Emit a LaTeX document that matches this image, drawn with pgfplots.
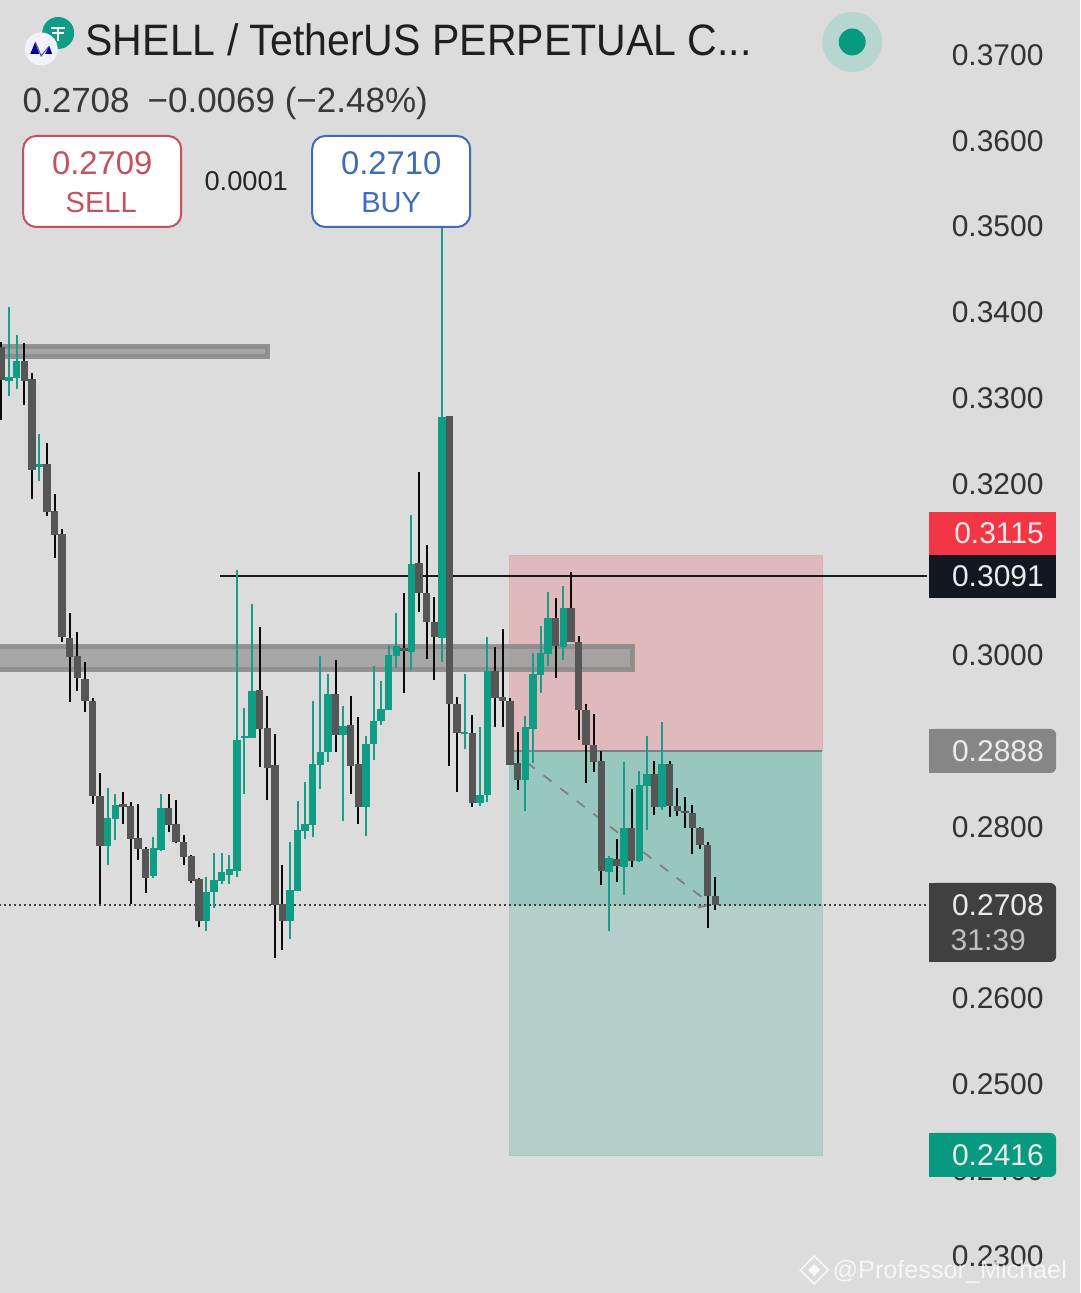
\documentclass[border=0pt]{standalone}
\usepackage{fontspec}
\setmainfont{Liberation Sans}
\usepackage{pgfplots}
\usepackage{pgfplotstable}
\pgfplotsset{compat=1.18}
\definecolor{bg}{HTML}{DCDCDC}
\definecolor{upc}{HTML}{0F9D85}
\definecolor{upw}{HTML}{1A9C88}
\definecolor{dnc}{HTML}{565656}
\definecolor{dnw}{HTML}{0A0A0A}
\definecolor{pinkz}{HTML}{E0B9BD}
\definecolor{tealz}{HTML}{97C7BF}
\definecolor{tealy}{HTML}{B4CFCA}
\definecolor{sellc}{RGB}{197,80,95}
\definecolor{buyc}{RGB}{63,108,184}
\definecolor{halo}{RGB}{184,214,208}
\definecolor{tv}{RGB}{8,153,129}
\definecolor{redb}{RGB}{242,54,69}
\definecolor{navyb}{RGB}{19,23,34}
\definecolor{grayb}{RGB}{134,134,134}
\pgfplotstableread{
i hi top bot lo
0 .3364 .3358 .3320 .3273
3 .3363 .3342 .3319 .3291
4 .3328 .3321 .3215 .3181
6 .3247 .3222 .3166 .3161
7 .3187 .3167 .3139 .3112
8 .3146 .3140 .3020 .3015
9 .3048 .3019 .2997 .2945
10 .3026 .2998 .2973 .2957
11 .2991 .2971 .2946 .2933
12 .2949 .2946 .2835 .2826
13 .2862 .2835 .2777 .2709
16 .2840 .2826 .2822 .2802
17 .2828 .2823 .2785 .2709
18 .2826 .2786 .2773 .2760
19 .2776 .2773 .2739 .2722
22 .2837 .2821 .2801 .2793
23 .2830 .2802 .2781 .2780
24 .2790 .2781 .2764 .2755
25 .2766 .2765 .2736 .2734
26 .2739 .2738 .2689 .2682
34 .3032 .2959 .2913 .2869
35 .2952 .2914 .2868 .2830
36 .2907 .2871 .2708 .2646
37 .2755 .2709 .2689 .2656
44 .2994 .2954 .2906 .2886
46 .2952 .2918 .2870 .2837
47 .2927 .2872 .2822 .2802
53 .3072 .3008 .3004 .2955
55 .3213 .3107 .3072 .3049
56 .3128 .3072 .3038 .2995
57 .3067 .3038 .3020 .2970
59 .3278 .3278 .2942 .2870
60 .2950 .2942 .2908 .2840
62 .2929 .2908 .2827 .2822
65 .3009 .2981 .2949 .2915
66 .3030 .2950 .2946 .2915
67 .2949 .2946 .2871 .2871
68 .2910 .2873 .2854 .2842
73 .3066 .3043 .3010 .2973
75 .3096 .3054 .3015 .3014
76 .3022 .3015 .2935 .2900
77 .2942 .2935 .2894 .2850
78 .2931 .2894 .2875 .2863
79 .2887 .2876 .2748 .2731
81 .2785 .2762 .2753 .2735
83 .2843 .2798 .2759 .2752
86 .2876 .2861 .2822 .2813
88 .2876 .2872 .2823 .2811
89 .2844 .2823 .2818 .2812
90 .2834 .2818 .2815 .2798
91 .2825 .2815 .2798 .2767
92 .2799 .2798 .2778 .2773
93 .2781 .2778 .2718 .2681
94 .2741 .2718 .2708 .2702
}\downs
\pgfplotstableread{
i hi top bot lo
1 .3405 .3323 .3319 .3301
2 .3372 .3342 .3322 .3310
5 .3257 .3222 .3218 .3202
14 .2844 .2809 .2777 .2755
15 .2837 .2825 .2808 .2784
20 .2787 .2774 .2742 .2739
21 .2837 .2821 .2772 .2771
27 .2741 .2723 .2689 .2678
28 .2769 .2737 .2723 .2705
29 .2769 .2746 .2736 .2732
30 .2766 .2750 .2743 .2732
31 .3098 .2900 .2748 .2741
32 .2938 .2905 .2903 .2837
33 .3059 .2957 .2903 .2903
38 .2781 .2725 .2689 .2668
39 .2829 .2795 .2724 .2724
40 .2851 .2802 .2794 .2785
41 .2946 .2872 .2801 .2787
42 .2998 .2886 .2871 .2843
43 .2977 .2954 .2886 .2875
45 .2940 .2917 .2906 .2806
48 .2905 .2896 .2822 .2788
49 .2987 .2922 .2896 .2877
50 .2969 .2936 .2922 .2918
51 .3011 .2999 .2935 .2935
52 .3048 .3010 .2998 .2984
54 .3163 .3105 .3003 .2982
58 .3497 .3277 .3019 .2991
61 .2977 .2910 .2907 .2890
63 .2915 .2836 .2827 .2823
64 .3020 .2981 .2836 .2828
69 .2928 .2915 .2854 .2818
70 .3002 .2977 .2913 .2873
71 .3033 .3002 .2976 .2955
72 .3073 .3043 .3000 .2987
74 .3080 .3054 .3009 .2994
80 .2765 .2763 .2746 .2678
82 .2875 .2798 .2752 .2720
84 .2864 .2848 .2759 .2758
85 .2905 .2861 .2847 .2795
87 .2921 .2872 .2822 .2819
}\ups
\newcommand{\fs}[1]{\fontsize{#1}{#1}\selectfont}
\pgfplotsset{
  wick/.style={draw=none,mark=none,forget plot,
    error bars/.cd,y dir=plus,y explicit,error mark=none,
    error bar style={line width=1pt,color=#1}},
  body/.style={draw=none,mark=none,forget plot,
    error bars/.cd,y dir=plus,y explicit,error mark=none,
    error bar style={line width=3.7pt,color=#1}},
}
\begin{document}
\begin{tikzpicture}
\fill[bg] (0,0) rectangle (540pt,646.5pt);
\begin{axis}[
  at={(0,0)},anchor=south west,scale only axis,
  width=540pt,height=646.5pt,
  xmin=-0.165,xmax=142.07,ymin=0.22557,ymax=0.37629,
  axis line style={draw=none},
  xtick=\empty,
  ytick={0.23,0.24,0.25,0.26,0.28,0.30,0.32,0.33,0.34,0.35,0.36,0.37},
  major tick length=0pt,
  yticklabel pos=right,
  scaled y ticks=false,
  yticklabel style={anchor=east,xshift=-14.8pt,yshift=-0.5pt,
    /pgf/number format/.cd,fixed,fixed zerofill,precision=4,assume math mode=true,
    /tikz/.cd,font=\fs{15},text=black!80},
]
% position zones
\addplot[fill=pinkz,draw=pinkz!96!black,line width=.4pt,forget plot] coordinates {(66.87,.3115)(108.09,.3115)(108.09,.2888)(66.87,.2888)} --cycle;
\addplot[fill=tealz,draw=none,forget plot] coordinates {(66.87,.2888)(108.09,.2888)(108.09,.2708)(66.87,.2708)} --cycle;
\addplot[fill=tealy,draw=tealy!96!black,line width=.4pt,forget plot] coordinates {(66.87,.2708)(108.09,.2708)(108.09,.2416)(66.87,.2416)} --cycle;
\addplot[color=black!50,line width=1pt,forget plot] coordinates {(66.87,.2888)(108.09,.2888)};
% gray levels
\addplot[fill=black!38,fill opacity=.85,draw=black!45,draw opacity=.9,line width=2.5pt,forget plot] coordinates {(-2,.3359)(35.07,.3359)(35.07,.3347)(-2,.3347)} --cycle;
\addplot[fill=black!38,fill opacity=.85,draw=black!45,draw opacity=.9,line width=2.5pt,forget plot] coordinates {(-2,.3009)(83.13,.3009)(83.13,.2983)(-2,.2983)} --cycle;
% levels
\addplot[color=black!90,line width=1pt,forget plot] coordinates {(28.8,.3091)(121.9,.3091)};
\addplot[color=black!75,line width=.8pt,dash pattern=on 1pt off 1.5pt,forget plot] coordinates {(-1,.2708)(121.9,.2708)};
\addplot[color=black!50,line width=.9pt,dash pattern=on 5pt off 5.5pt,forget plot] coordinates {(69.2,.2874)(92.4,.2716)(92.9,.2708)};
\addplot[color=black!50,line width=.9pt,forget plot] coordinates {(91.7,.2705)(93.2,.2708)};
% wicks
\addplot[wick=dnw] table[x=i,y=lo,y error plus expr=\thisrow{hi}-\thisrow{lo}] {\downs};
\addplot[wick=upw] table[x=i,y=lo,y error plus expr=\thisrow{hi}-\thisrow{lo}] {\ups};
% bodies
\addplot[body=upc] table[x=i,y=bot,y error plus expr=\thisrow{top}-\thisrow{bot}] {\ups};
\addplot[body=dnc] table[x=i,y=bot,y error plus expr=\thisrow{top}-\thisrow{bot}] {\downs};
\end{axis}
% overlays in image pixels
\begin{scope}[x=0.5pt,y=-0.5pt,shift={(0,646.5pt)}]
% header
\fill[upc] (58,33) circle (16);
\draw[white,line width=1pt] (51,28)--(65,28) (58,28)--(58,41) (52,33)--(64,33);
\fill[white!95!blue] (41,49) circle (16.5);
\fill[blue!60!black] (30,54)--(35,42)--(39,54)--cycle (45,54)--(49,46)--(52,54)--cycle;
\draw[blue!40!gray,line width=.5pt] (35,42)--(41,56)--(49,46);
\node[anchor=base west,inner sep=0,text=black!88,font=\fs{22}] at (85,56) {\scalebox{.933}[1]{SHELL / TetherUS PERPETUAL C...}};
\node[anchor=base west,inner sep=0,text=black!78,font=\fs{17.5}] at (22,113) {0.2708\hspace{9pt}−0.0069 (−2.48\%)};
\draw[fill=white,draw=sellc,line width=1pt,rounded corners=6.5pt] (23,136) rectangle (181,227);
\node[text=sellc,font=\fs{16.4}] at (102,163) {0.2709};
\node[text=sellc,font=\fs{14.5}] at (101,203) {SELL};
\node[text=black!85,font=\fs{13.6}] at (246,181) {0.0001};
\draw[fill=white,draw=buyc,line width=1pt,rounded corners=6.5pt] (312,136) rectangle (470,227);
\node[text=buyc,font=\fs{16.4}] at (391,163) {0.2710};
\node[text=buyc,font=\fs{14.5}] at (391,203) {BUY};
\fill[halo] (852,42) circle (30);
\fill[tv] (852,42) circle (13.5);
% price boxes
\fill[redb] (929,512) rectangle (1056,555);
\fill[navyb] (929,555) rectangle (1056,598);
\fill[grayb,rounded corners=3pt] (929,729) rectangle (1056,773);
\fill[black!75,rounded corners=3pt] (929,883) rectangle (1056,962);
\fill[tv,rounded corners=3pt] (929,1133) rectangle (1056,1177);
\fill[grayb] (929,729) rectangle (940,773);
\fill[black!75] (929,883) rectangle (940,962);
\fill[tv] (929,1133) rectangle (940,1177);
\foreach \yy/\lab in {544/0.3115,587/0.3091,761.5/0.2888,916/0.2708,1166/0.2416}{
  \node[anchor=base east,inner sep=0,text=white!92!black,font=\fs{15}] at (1044,\yy) {\lab};
}
\node[anchor=base east,inner sep=0,text=black!25,font=\fs{15}] at (1026,950.5) {31:39};
% watermark
\node[anchor=base west,inner sep=0,text=white,text opacity=.75,font=\fs{12.6}] at (832,1279) {@Professor\_Michael};
\draw[white,opacity=.8,line width=.8pt] (814,1256)--(828,1270)--(814,1284)--(800,1270)--cycle;
\fill[white,opacity=.8] (814,1264)--(820,1270)--(814,1276)--(808,1270)--cycle;
\end{scope}
\end{tikzpicture}
\end{document}
